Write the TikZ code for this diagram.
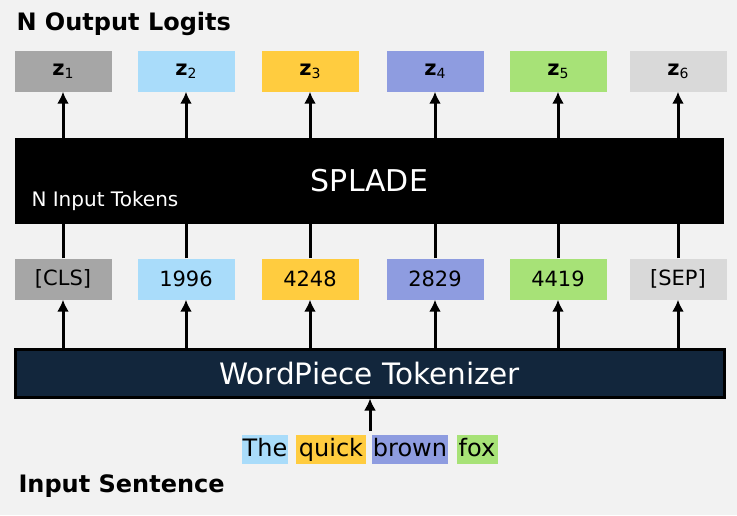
\documentclass[tikz,border=0pt]{standalone}
\usepackage{fontspec}
\setmainfont{DejaVu Sans}
\usetikzlibrary{arrows.meta}
\begin{document}
\begin{tikzpicture}[x=1pt,y=-1pt,
  box/.style={draw=none,minimum width=97pt,minimum height=41pt,inner sep=0pt,font=\fontsize{21}{23}\selectfont},
  arr/.style={line width=3pt,-{Latex[length=12pt,width=12pt]}},
  wd/.style={inner xsep=0pt,inner ysep=1.5pt,font=\fontsize{24}{26}\selectfont,text height=20pt,text depth=6pt}]
\definecolor{bg}{HTML}{F2F2F2}
\definecolor{cA}{HTML}{A6A6A6}\definecolor{cB}{HTML}{A9DCFA}\definecolor{cC}{HTML}{FFCC3F}
\definecolor{cD}{HTML}{8E9CE0}\definecolor{cE}{HTML}{A7E277}\definecolor{cF}{HTML}{D9D9D9}
\definecolor{navy}{HTML}{12263C}
\fill[bg] (0,0) rectangle (737,515);
\node[anchor=west,font=\bfseries\fontsize{24}{27}\selectfont] (t1) at (13,24) {N Output Logits};
\node[anchor=west,font=\bfseries\fontsize{24}{27}\selectfont] (t2) at (15,486) {Input Sentence};
\node[fill=black,minimum width=709pt,minimum height=86pt,inner sep=0pt,text=white,font=\fontsize{30}{33}\selectfont] (sp) at (369.5,181) {SPLADE};
\node[anchor=west,text=white,font=\fontsize{20}{22}\selectfont] (nit) at (28,201) {N Input Tokens};
\node[fill=navy,draw=black,line width=3pt,minimum width=709pt,minimum height=48pt,inner sep=0pt,text=white,font=\fontsize{29.5}{32}\selectfont] (wp) at (369.5,373) {WordPiece Tokenizer};
\foreach \i/\x/\c/\t in {1/63/cA/[CLS],2/186/cB/1996,3/310/cC/4248,4/435/cD/2829,5/558/cE/4419,6/678/cF/[SEP]}{
  \node[box,fill=\c] (z\i) at (\x,71) {\textbf{z}\raisebox{-3pt}{\fontsize{14}{15}\selectfont\i}};
  \node[box,fill=\c] (k\i) at (\x,279) {\t};
  \draw[arr] (sp.north -| z\i) -- (z\i.south);
  \draw[line width=3pt] (k\i.north) -- (sp.south -| k\i);
  \draw[arr] (wp.north -| k\i) -- (k\i.south);
}
\node[wd,fill=cB,minimum width=46pt] (w1) at (265,449) {The};
\node[wd,fill=cC,minimum width=70pt] (w2) at (331,449) {quick};
\node[wd,fill=cD,minimum width=76pt] (w3) at (410,449) {brown};
\node[wd,fill=cE,minimum width=41pt] (w4) at (477,449) {fox};
\coordinate (s) at (370,431);
\draw[arr] (s) -- (wp.south -| s);
\end{tikzpicture}
\end{document}
